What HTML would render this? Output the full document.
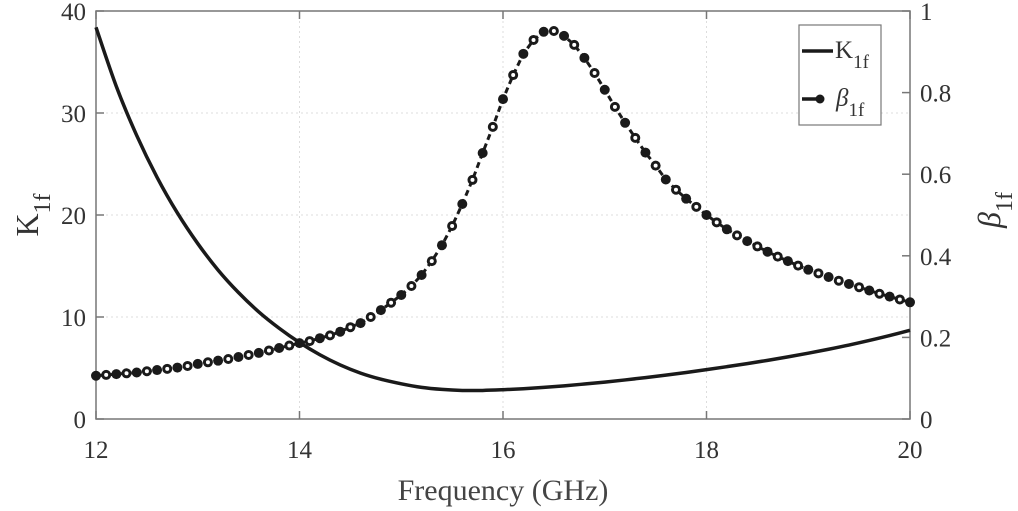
<!DOCTYPE html>
<html><head><meta charset="utf-8"><style>
html,body{margin:0;padding:0;background:#fff;}
svg{display:block;font-family:"Liberation Serif",serif;}
</style></head><body>
<svg id="chart" width="1018" height="511" viewBox="0 0 1018 511"></svg>
<script>
const freqK = [12.0,12.2,12.4,12.6,12.8,13.0,13.2,13.4,13.6,13.8,14.0,14.2,14.4,14.6,14.8,15.0,15.2,15.4,15.6,15.8,16.0,16.2,16.4,16.6,16.8,17.0,17.2,17.4,17.6,17.8,18.0,18.2,18.4,18.6,18.8,19.0,19.2,19.4,19.6,19.8,20.0];
const kValues = [38.4,32.6,27.8,23.7,20.2,17.2,14.6,12.4,10.5,8.9,7.5,6.3,5.3,4.5,3.9,3.45,3.1,2.9,2.8,2.8,2.87,2.97,3.1,3.25,3.43,3.62,3.83,4.06,4.3,4.56,4.84,5.13,5.43,5.75,6.09,6.45,6.84,7.25,7.7,8.18,8.7];
const betaStart = 12.0;
const betaStep = 0.1;
const betaValues = [.106,.108,.110,.112,.114,.117,.120,.123,.126,.130,
.135,.139,.143,.147,.152,.157,.162,.168,.174,.180,
.186,.191,.198,.205,.214,.225,.235,.250,.267,.285,
.304,.326,.353,.387,.426,.473,.527,.586,.652,.716,
.784,.843,.895,.929,.949,.951,.939,.917,.885,.848,
.807,.765,.726,.689,.653,.621,.587,.562,.540,.520,
.500,.482,.465,.450,.436,.423,.410,.398,.387,.376,
.366,.357,.348,.339,.331,.323,.315,.307,.300,.293,.286];
const xTicks = [12,14,16,18,20];
const yLeftTicks = [0,10,20,30,40];
const yRightTicks = [0,0.2,0.4,0.6,0.8,1];
const yRightLabels = ["0","0.2","0.4","0.6","0.8","1"];

const X0=96,X1=910,Y0=419,Y1=11;
const sx=f=>X0+(f-12)/8*(X1-X0);
const syL=v=>Y0-v/40*(Y0-Y1);
const syR=v=>Y0-v*(Y0-Y1);
const NS="http://www.w3.org/2000/svg";
const svg=document.getElementById('chart');
function mk(tag,attrs,parent){const e=document.createElementNS(NS,tag);for(const k in attrs)e.setAttribute(k,attrs[k]);(parent||svg).appendChild(e);return e;}
function smoothPath(pts){
  let d='M'+pts[0][0]+','+pts[0][1];
  for(let i=0;i<pts.length-1;i++){
    const p0=pts[Math.max(i-1,0)],p1=pts[i],p2=pts[i+1],p3=pts[Math.min(i+2,pts.length-1)];
    const c1x=p1[0]+(p2[0]-p0[0])/6,c1y=p1[1]+(p2[1]-p0[1])/6;
    const c2x=p2[0]-(p3[0]-p1[0])/6,c2y=p2[1]-(p3[1]-p1[1])/6;
    d+=' C'+c1x+','+c1y+' '+c2x+','+c2y+' '+p2[0]+','+p2[1];
  }
  return d;
}

const grid=mk('g',{stroke:'#ddd','stroke-width':1,'stroke-dasharray':'2,3'});


xTicks.slice(1,-1).forEach(t=>mk('line',{x1:sx(t),x2:sx(t),y1:Y1,y2:Y0},grid));
yLeftTicks.slice(1,-1).forEach(t=>mk('line',{x1:X0,x2:X1,y1:syL(t),y2:syL(t)},grid));

const box=mk('rect',{x:X0,y:Y1,width:X1-X0,height:Y0-Y1,fill:'none',stroke:'#777','stroke-width':1.5});



const ticks=mk('g',{stroke:'#777','stroke-width':1.5});


xTicks.forEach(t=>{mk('line',{x1:sx(t),x2:sx(t),y1:Y0,y2:Y0-8},ticks);mk('line',{x1:sx(t),x2:sx(t),y1:Y1,y2:Y1+8},ticks);});
yLeftTicks.forEach(t=>mk('line',{x1:X0,x2:X0+8,y1:syL(t),y2:syL(t)},ticks));
yRightTicks.forEach(t=>mk('line',{x1:X1,x2:X1-8,y1:syR(t),y2:syR(t)},ticks));

const lbl=mk('g',{fill:'#333','font-size':25});


xTicks.forEach(t=>{const e=mk('text',{x:sx(t),y:458,'text-anchor':'middle'},lbl);e.textContent=t;});
yLeftTicks.forEach(t=>{const e=mk('text',{x:86,y:syL(t)+9,'text-anchor':'end'},lbl);e.textContent=t;});
yRightTicks.forEach((t,i)=>{const e=mk('text',{x:920,y:syR(t)+9,'text-anchor':'start'},lbl);e.textContent=yRightLabels[i];});

const kl=mk('path',{d:smoothPath(freqK.map((f,i)=>[sx(f),syL(kValues[i])])),fill:'none',stroke:'#1a1a1a','stroke-width':3.5});



const bp=betaValues.map((v,i)=>sx(betaStart+i*betaStep)+','+syR(v)).join(' ');
const bl=mk('polyline',{points:bp,fill:'none',stroke:'#1a1a1a','stroke-width':3,'stroke-dasharray':'6,4'});


const bm=mk('g',{});


betaValues.forEach((v,i)=>{
  const cx=sx(betaStart+i*betaStep),cy=syR(v);
  const c=mk('circle',{cx:cx,cy:cy,r:5,fill:'#1a1a1a'},bm);
  
  
  if(i%2===1){mk('circle',{cx:cx,cy:cy,r:2,fill:'#fff'},bm);}
});
</script>
<svg width="1018" height="511" style="position:absolute;left:0;top:0;font-family:'Liberation Serif',serif">
  <g>
    <rect x="799" y="25" width="82" height="100" fill="#fff" stroke="#777" stroke-width="1.2"/>
    <line x1="802" y1="51" x2="833" y2="51" stroke="#1a1a1a" stroke-width="3.5"/>
    <text x="835" y="58" font-size="25" fill="#333">K<tspan font-size="19" dy="10">1f</tspan></text>
    <line x1="802" y1="99" x2="820" y2="99" stroke="#1a1a1a" stroke-width="3.5"/>
    <circle cx="820" cy="99" r="4.5" fill="#1a1a1a"/>
    <text x="836" y="106" font-size="25" font-style="italic" fill="#333">β<tspan font-size="19" font-style="normal" dy="10">1f</tspan></text>
  </g>
  <text x="503" y="500" font-size="30" fill="#444" text-anchor="middle">Frequency (GHz)</text>
  <text transform="translate(38,215) rotate(-90)" font-size="32" fill="#333" text-anchor="middle">K<tspan font-size="24" dy="12">1f</tspan></text>
  <text transform="translate(1000,210) rotate(-90)" font-size="32" fill="#333" text-anchor="middle"><tspan font-style="italic">β</tspan><tspan font-size="24" dy="12">1f</tspan></text>
</svg>
</body></html>
